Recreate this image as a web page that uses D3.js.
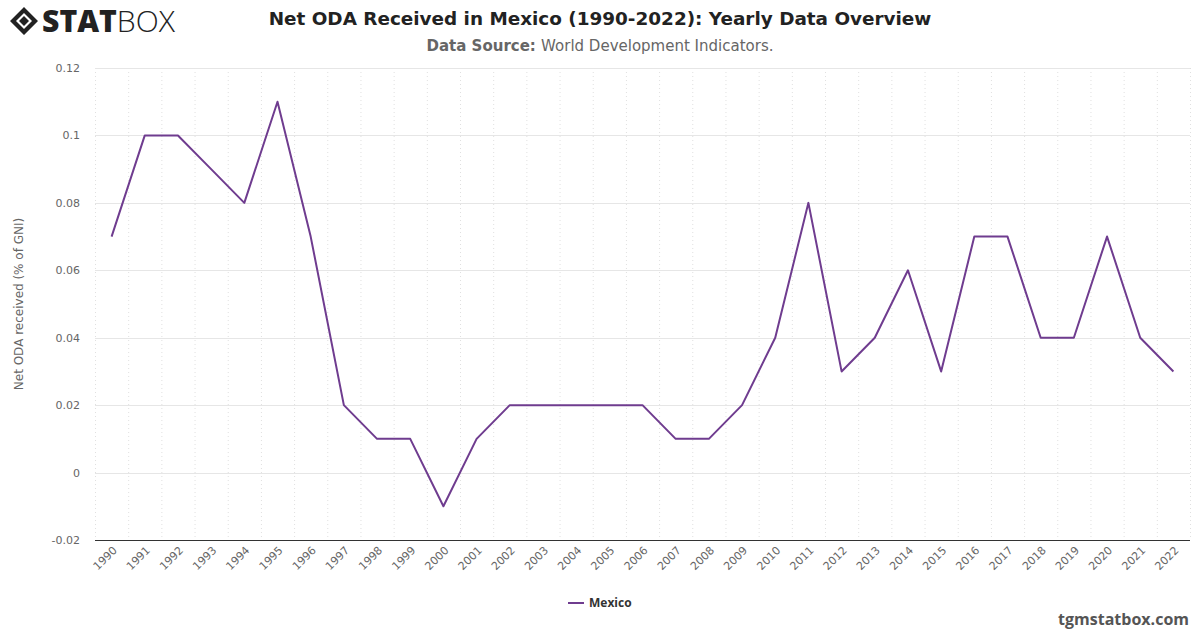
<!DOCTYPE html>
<html>
<head>
<meta charset="utf-8">
<script src="https://cdn.jsdelivr.net/npm/d3@7"></script>
<style>
  body { margin: 0; background: #fff; }
</style>
</head>
<body>
<div id="vis"></div>
<script>
var years = ["1990","1991","1992","1993","1994","1995","1996","1997","1998","1999",
  "2000","2001","2002","2003","2004","2005","2006","2007","2008","2009","2010",
  "2011","2012","2013","2014","2015","2016","2017","2018","2019","2020","2021","2022"];
var mexico = [0.07, 0.10, 0.10, 0.09, 0.08, 0.11, 0.07, 0.02, 0.01, 0.01,
  -0.01, 0.01, 0.02, 0.02, 0.02, 0.02, 0.02, 0.01, 0.01, 0.02, 0.04,
  0.08, 0.03, 0.04, 0.06, 0.03, 0.07, 0.07, 0.04, 0.04, 0.07, 0.04, 0.03];
var yTicks = [-0.02, 0, 0.02, 0.04, 0.06, 0.08, 0.1, 0.12];

function draw() {
  var width = 1200, height = 630;
  var left = 95, right = 1190, top = 68, bottom = 540;
  var lineColor = "#6f3c8f";
  var dejavu = "'DejaVu Sans', sans-serif";
  var open = "'Open Sans', sans-serif";

  var svg = d3.select("#vis").append("svg")
    .attr("width", width)
    .attr("height", height)
    .style("font-family", dejavu);

  var x = d3.scaleBand().domain(years).range([left, right]);
  var y = d3.scaleLinear().domain([-0.02, 0.12]).range([bottom, top]);

  // vertical dotted grid at category boundaries
  svg.append("g").selectAll("line")
    .data(years.concat(["end"]))
    .join("line")
    .attr("x1", function(d, i) { return left + i * x.step() + 0.5; })
    .attr("x2", function(d, i) { return left + i * x.step() + 0.5; })
    .attr("y1", top)
    .attr("y2", bottom)
    .attr("stroke", "#e0e0e0")
    .attr("stroke-dasharray", "1,3");

  // horizontal grid
  svg.append("g").selectAll("line")
    .data(yTicks)
    .join("line")
    .attr("x1", left)
    .attr("x2", right)
    .attr("y1", function(d) { return Math.round(y(d)) + 0.5; })
    .attr("y2", function(d) { return Math.round(y(d)) + 0.5; })
    .attr("stroke", "#e6e6e6");

  // y axis labels
  var yAxis = d3.axisLeft(y).tickValues(yTicks).tickSize(0).tickPadding(0)
    .tickFormat(function(d) { return d === 0 ? "0" : String(+d.toFixed(2)); });
  var gy = svg.append("g").attr("transform", "translate(80,0)").call(yAxis);
  gy.select(".domain").remove();
  gy.selectAll("text")
    .attr("fill", "#666")
    .style("font-size", "11px")
    .style("font-family", dejavu);

  // x axis
  var xAxis = d3.axisBottom(x).tickSize(0).tickPadding(0);
  var gx = svg.append("g").attr("transform", "translate(0," + bottom + ")").call(xAxis);
  gx.select(".domain").remove();
  gx.selectAll("text")
    .attr("fill", "#666")
    .style("font-size", "11px")
    .style("font-family", dejavu)
    .attr("text-anchor", "end")
    .attr("dy", null)
    .attr("y", 0)
    .attr("transform", "translate(6,11) rotate(-45)");

  svg.append("line")
    .attr("x1", left).attr("x2", right)
    .attr("y1", bottom + 0.5).attr("y2", bottom + 0.5)
    .attr("stroke", "#333").attr("stroke-width", 1);

  // y axis title
  svg.append("text")
    .attr("transform", "translate(23," + ((top + bottom) / 2) + ") rotate(-90)")
    .attr("text-anchor", "middle")
    .attr("fill", "#666")
    .style("font-size", "12px")
    .text("Net ODA received (% of GNI)");

  // line
  var line = d3.line()
    .x(function(d, i) { return x(years[i]) + x.bandwidth() / 2; })
    .y(function(d) { return y(d); });
  svg.append("path")
    .datum(mexico)
    .attr("d", line)
    .attr("fill", "none")
    .attr("stroke", lineColor)
    .attr("stroke-width", 2)
    .attr("stroke-linejoin", "round");

  // title
  svg.append("text")
    .attr("x", 600).attr("y", 25)
    .attr("text-anchor", "middle")
    .attr("fill", "#222")
    .style("font-size", "18.4px")
    .style("font-weight", "bold")
    .text("Net ODA Received in Mexico (1990-2022): Yearly Data Overview");

  var sub = svg.append("text")
    .attr("x", 600).attr("y", 51)
    .attr("text-anchor", "middle")
    .attr("fill", "#666")
    .style("font-size", "15px");
  sub.append("tspan").style("font-weight", "bold").text("Data Source: ");
  sub.append("tspan").text("World Development Indicators.");

  // legend
  svg.append("line")
    .attr("x1", 568).attr("x2", 584)
    .attr("y1", 603).attr("y2", 603)
    .attr("stroke", lineColor).attr("stroke-width", 2);
  svg.append("text")
    .attr("x", 589).attr("y", 607)
    .attr("fill", "#333")
    .style("font-family", open)
    .style("font-size", "12px")
    .style("font-weight", "bold")
    .text("Mexico");

  // watermark
  svg.append("text")
    .attr("x", 1189).attr("y", 625)
    .attr("text-anchor", "end")
    .attr("fill", "#555")
    .style("font-family", open)
    .style("font-size", "16px")
    .style("font-weight", "bold")
    .text("tgmstatbox.com");

  // logo
  var logo = svg.append("g").attr("transform", "translate(10,7)");
  logo.append("path")
    .attr("d", "M14,0 L28,14 L14,28 L0,14 Z M14,6 L22,14 L14,22 L6,14 Z")
    .attr("fill", "#222")
    .attr("fill-rule", "evenodd");
  logo.append("path")
    .attr("d", "M14,9 L19,14 L14,19 L9,14 Z")
    .attr("fill", "#222");
  var lt = logo.append("text")
    .attr("x", 32).attr("y", 25)
    .attr("fill", "#222")
    .style("font-size", "30px")
    .style("font-family", open)
    .attr("textLength", 133)
    .attr("lengthAdjust", "spacingAndGlyphs");
  lt.append("tspan").style("font-weight", "800").text("STAT");
  lt.append("tspan").style("font-weight", "300").text("BOX");
}

draw();
</script>
</body>
</html>
